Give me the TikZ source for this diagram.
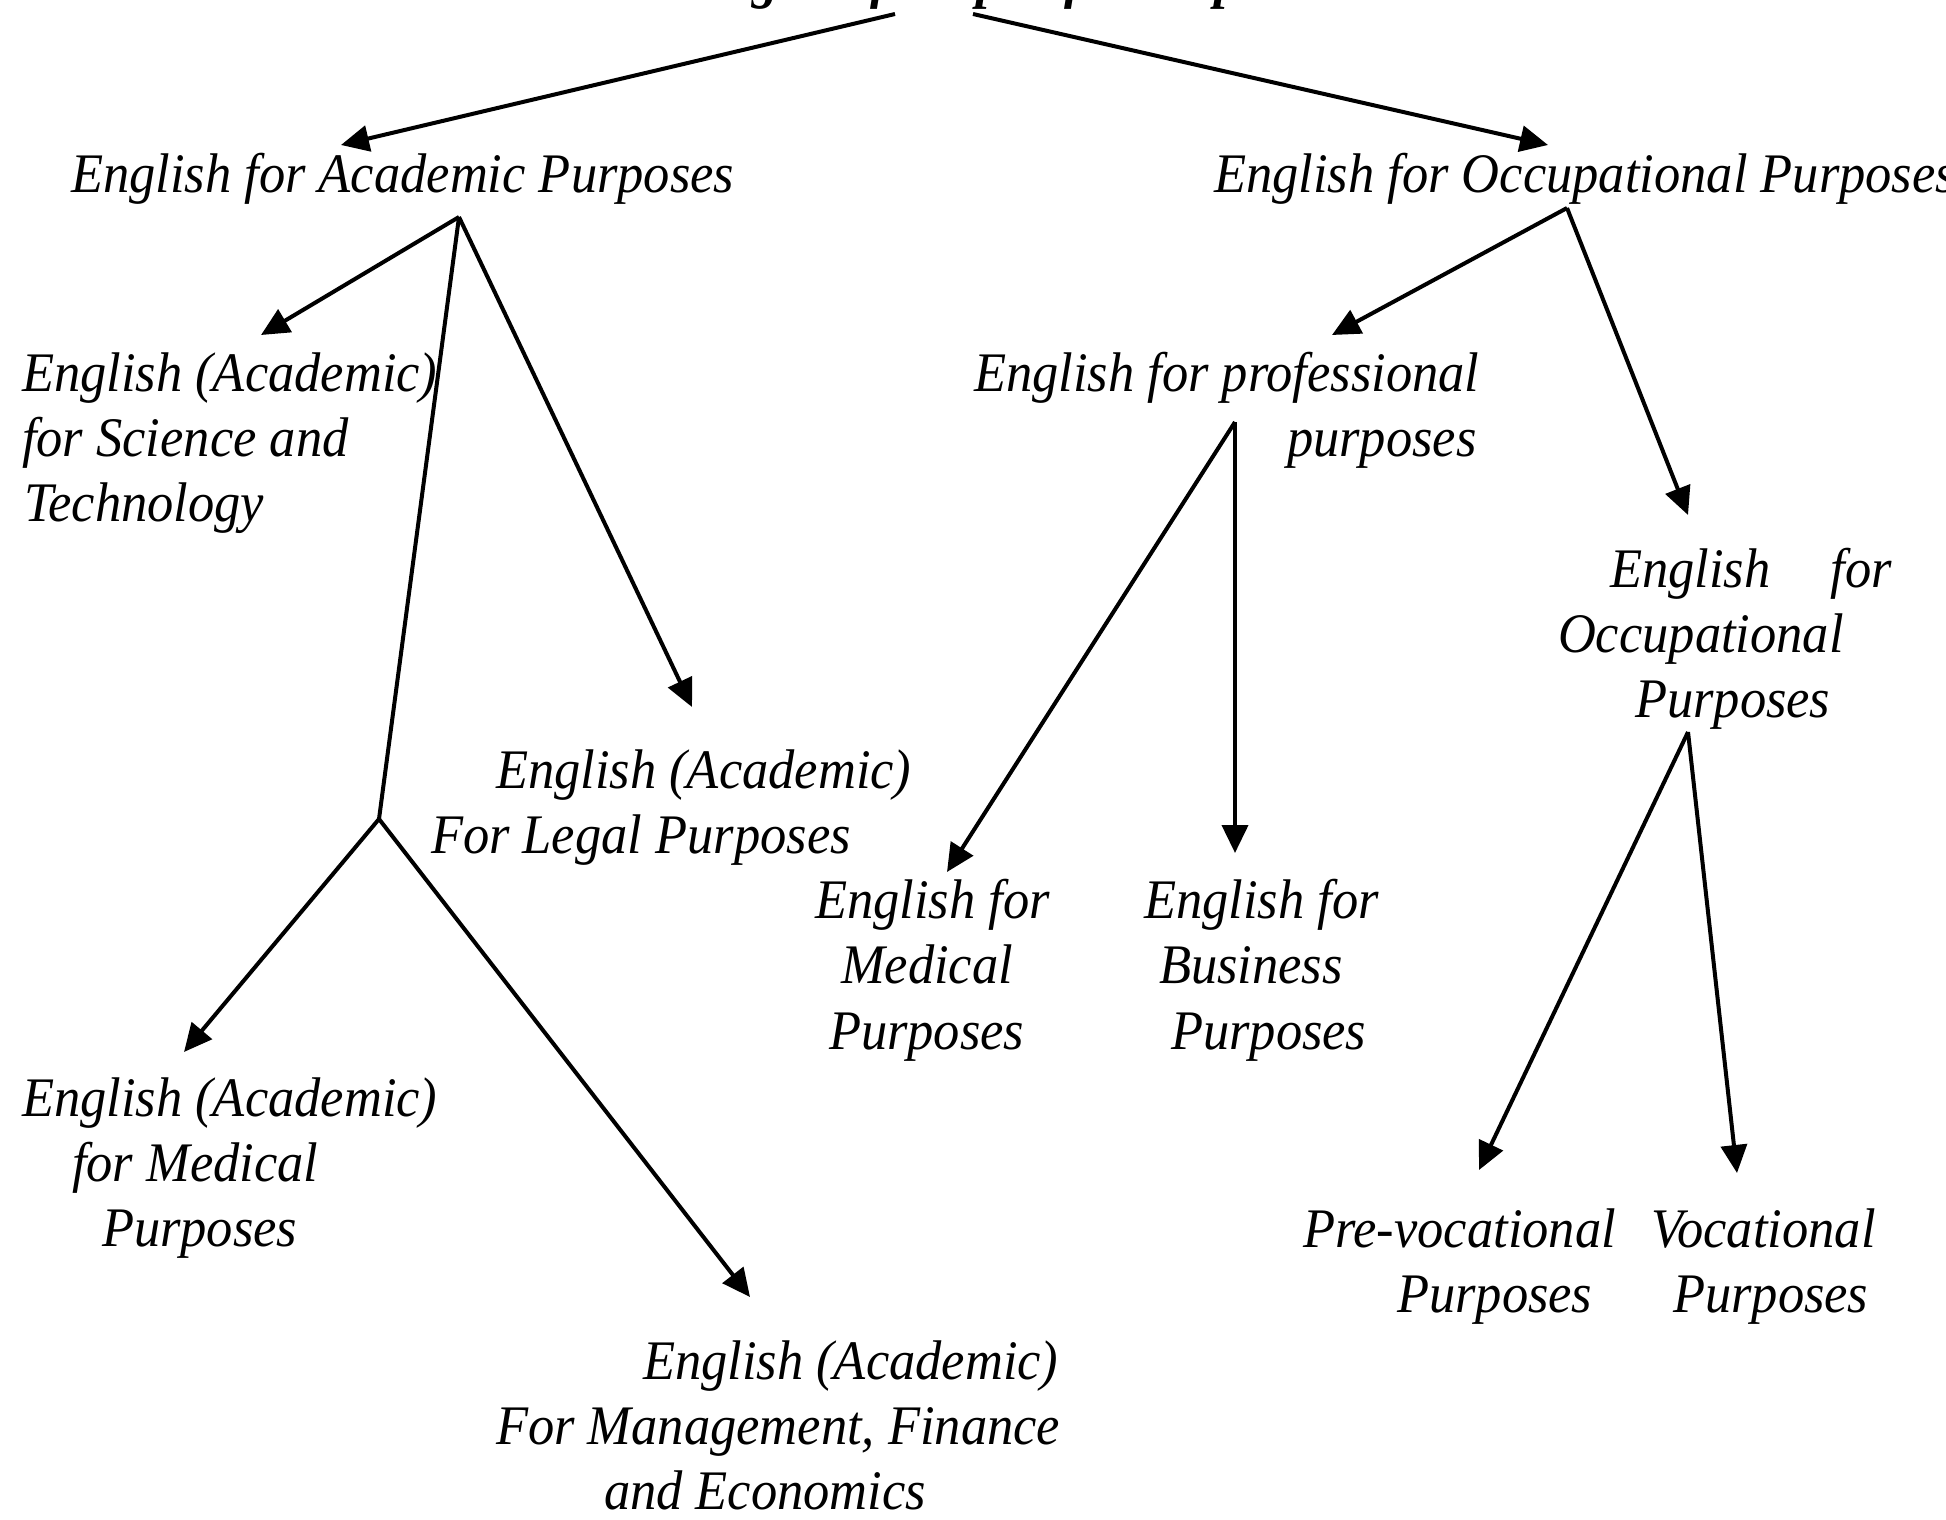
\documentclass[tikz,border=0pt]{standalone}
\usepackage{fontspec}
\setmainfont{Liberation Serif}[FakeStretch=0.94]
\usetikzlibrary{arrows.meta}
\begin{document}
\begin{tikzpicture}[x=0.25pt,y=-0.25pt,
  lbl/.style={anchor=base west,inner sep=0pt,outer sep=0pt,font=\fontsize{13.96}{16.25}\selectfont\itshape},
  ttl/.style={lbl,font=\fontsize{13.96}{16.25}\selectfont\bfseries\itshape},
  arr/.style={line width=1pt,-{Triangle[length=7pt,width=6.5pt]}},
  seg/.style={line width=1pt}]
\useasboundingbox (0,0) rectangle (1946,1519);
% title (cut off at the top edge)
\node[ttl] (title) at (688,-2) {English for Specific Purposes};
% labels
\node[lbl] (eap) at (71,193) {English for Academic Purposes};
\node[lbl] (eop) at (1214,193) {English for Occupational Purposes};
\node[lbl] (sci1) at (22,391) {English (Academic)};
\node[lbl] (sci2) at (22,456) {for Science and};
\node[lbl] (sci3) at (24,521) {Technology};
\node[lbl] (leg1) at (496,788) {English (Academic)};
\node[lbl] (leg2) at (431,853) {For Legal Purposes};
\node[lbl] (med1) at (22,1116) {English (Academic)};
\node[lbl] (med2) at (72,1181) {for Medical};
\node[lbl] (med3) at (102,1246) {Purposes};
\node[lbl] (man1) at (643,1379) {English (Academic)};
\node[lbl] (man2) at (496,1444) {For Management, Finance};
\node[lbl] (man3) at (604,1509) {and Economics};
\node[lbl] (pro1) at (974,391) {English for professional};
\node[lbl] (pro2) at (1287,456) {purposes};
\node[lbl] (occ1) at (1610,587) {English\hspace{15pt}for};
\node[lbl] (occ2) at (1558,652) {Occupational};
\node[lbl] (occ3) at (1635,717) {Purposes};
\node[lbl] (emp1) at (815,918) {English for};
\node[lbl] (emp2) at (841,983) {Medical};
\node[lbl] (emp3) at (829,1049) {Purposes};
\node[lbl] (ebp1) at (1144,918) {English for};
\node[lbl] (ebp2) at (1159,983) {Business};
\node[lbl] (ebp3) at (1171,1049) {Purposes};
\node[lbl] (pre1) at (1303,1247) {Pre-vocational};
\node[lbl] (pre2) at (1397,1312) {Purposes};
\node[lbl] (voc1) at (1651,1247) {Vocational};
\node[lbl] (voc2) at (1673,1312) {Purposes};
% connector points
\coordinate (tL) at (895,14);
\coordinate (tR) at (973,14);
\coordinate (eapT) at (341,145);
\coordinate (eopT) at (1548,145);
\coordinate (eapB) at (459,217);
\coordinate (sciT) at (261,335);
\coordinate (legT) at (692,707);
\coordinate (br) at (379,819);
\coordinate (medT) at (184,1052);
\coordinate (manT) at (750,1297);
\coordinate (eopB) at (1567,208);
\coordinate (proT) at (1332,335);
\coordinate (occT) at (1688,515);
\coordinate (proB) at (1235,422);
\coordinate (empT) at (947,872);
\coordinate (ebpT) at (1235,853);
\coordinate (occB) at (1688,732);
\coordinate (preT) at (1479,1170);
\coordinate (vocT) at (1737,1173);
% connectors
\draw[arr] (tL) -- (eapT);
\draw[arr] (tR) -- (eopT);
\draw[arr] (eapB) -- (sciT);
\draw[arr] (eapB) -- (legT);
\draw[seg] (eapB) -- (br);
\draw[arr] (br) -- (medT);
\draw[arr] (br) -- (manT);
\draw[arr] (eopB) -- (proT);
\draw[arr] (eopB) -- (occT);
\draw[arr] (proB) -- (empT);
\draw[arr] (proB) -- (ebpT);
\draw[arr] (occB) -- (preT);
\draw[arr] (occB) -- (vocT);
\end{tikzpicture}
\end{document}
